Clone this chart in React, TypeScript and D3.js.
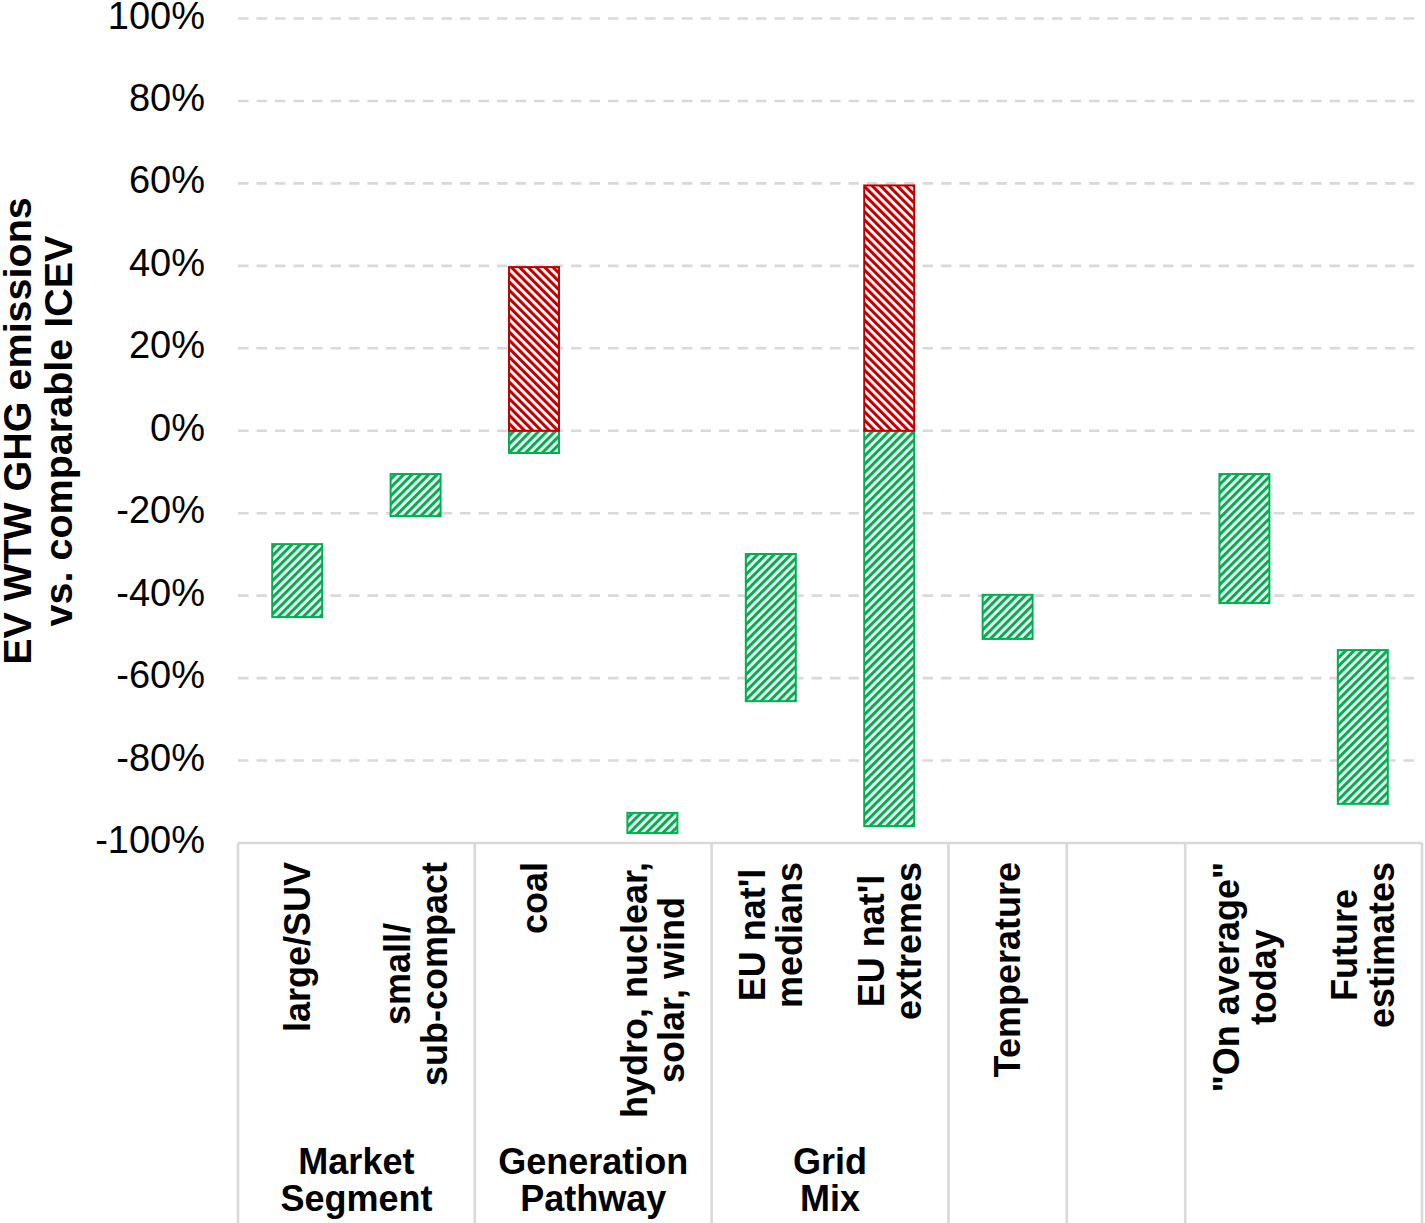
import React, { useMemo } from "react";
import * as d3 from "d3";

// ---- data ----
const categoryIds = ["large", "small", "coal", "renew", "euMed", "euExt", "temp", "gap", "avg", "future"];
const categoryLabels: string[][] = [
  ["large/SUV"],
  ["small/", "sub-compact"],
  ["coal"],
  ["hydro, nuclear,", "solar, wind"],
  ["EU nat'l", "medians"],
  ["EU nat'l", "extremes"],
  ["Temperature"],
  [],
  ['"On average"', "today"],
  ["Future", "estimates"],
];
const greenLow: (number | null)[] = [-45.2, -20.7, -5.4, -97.6, -65.6, -95.9, -50.5, null, -41.8, -90.5];
const greenHigh: (number | null)[] = [-27.5, -10.5, 0, -92.7, -29.9, 0, -39.8, null, -10.5, -53.2];
const redLow: (number | null)[] = [null, null, 0, null, null, 0, null, null, null, null];
const redHigh: (number | null)[] = [null, null, 39.7, null, null, 59.5, null, null, null, null];

const groupLabels: string[][] = [["Market", "Segment"], ["Generation", "Pathway"], ["Grid", "Mix"], [], [], []];
const groupStart = [0, 2, 4, 6, 7, 8];
const groupEnd = [2, 4, 6, 7, 8, 10];

const yTicks = [100, 80, 60, 40, 20, 0, -20, -40, -60, -80, -100];
const yTitle = ["EV WTW GHG emissions", "vs. comparable ICEV"];

// ---- styles ----
const FONT = "'Liberation Sans', Arial, Helvetica, sans-serif";
const GREEN = "#00B050";
const RED = "#C00000";
const GRID = "#D9D9D9";
const W = 1425;
const H = 1223;
const HP = 5.9; // hatch period
const HC = 3.1; // hatch coloured width

export default function App() {
  const left = 238;
  const right = 1422;
  const x = d3.scaleBand<string>().domain(categoryIds).range([left, right]).paddingInner(0.578).paddingOuter(0.289);
  const y = d3.scaleLinear().domain([-100, 100]).range([843, 18.5]);
  const step = x.step();
  const catFont = 36;

  const widths = useMemo(() => {
    const c = document.createElement("canvas").getContext("2d")!;
    c.font = `bold ${catFont}px ${FONT}`;
    return categoryLabels.map((lines) => d3.max(lines, (l) => c.measureText(l).width) || 0);
  }, []);

  const boundaries = Array.from(new Set([...groupStart, ...groupEnd])).sort((a, b) => a - b);
  const labelTop = 862;
  const lh = 37;

  return (
    <svg width={W} height={H} style={{ position: "absolute", left: 0, top: 0, background: "#fff" }} fontFamily={FONT}>
      <defs>
        <pattern id="hatchGreen" width={HP} height={HP} patternUnits="userSpaceOnUse" patternTransform="rotate(45)">
          <rect width={HP} height={HP} fill="#fff" />
          <rect width={HC} height={HP} fill={GREEN} />
        </pattern>
        <pattern id="hatchRed" width={HP} height={HP} patternUnits="userSpaceOnUse" patternTransform="rotate(-45)">
          <rect width={HP} height={HP} fill="#fff" />
          <rect width={HC} height={HP} fill={RED} />
        </pattern>
      </defs>
      <rect width={W} height={H} fill="#fff" />

      {/* gridlines */}
      {yTicks.filter((t) => t !== -100).map((t) => (
        <line key={t} x1={left} x2={right} y1={y(t)} y2={y(t)} stroke={GRID} strokeWidth={2.6} strokeDasharray="10.5 8" />
      ))}
      {/* axis line at bottom */}
      <line x1={left} x2={right} y1={y(-100)} y2={y(-100)} stroke={GRID} strokeWidth={2.6} />
      {boundaries.map((b) => (
        <line key={b} x1={left + b * step} x2={left + b * step} y1={y(-100)} y2={H} stroke={GRID} strokeWidth={2.6} />
      ))}

      {/* tick labels */}
      {yTicks.map((t) => (
        <text key={t} x={205} y={y(t) + 10} textAnchor="end" fontSize={38} fill="#000">
          {`${t}%`}
        </text>
      ))}

      {/* y title */}
      <g transform={`translate(0, 431) rotate(-90)`}>
        {yTitle.map((l, i) => (
          <text key={i} x={0} y={31 + i * 41} textAnchor="middle" fontSize={39.5} fontWeight="bold" fill="#000">
            {l}
          </text>
        ))}
      </g>

      {/* bars */}
      {categoryIds.map((id, i) => {
        const bx = x(id)!;
        const bw = x.bandwidth();
        const out: React.ReactNode[] = [];
        if (greenLow[i] != null && greenHigh[i] != null) {
          const y1 = y(greenHigh[i]!);
          const y2 = y(greenLow[i]!);
          out.push(
            <rect key="g" x={bx} y={y1} width={bw} height={y2 - y1} fill="url(#hatchGreen)" stroke={GREEN} strokeWidth={2} />
          );
        }
        if (redLow[i] != null && redHigh[i] != null) {
          const y1 = y(redHigh[i]!);
          const y2 = y(redLow[i]!);
          out.push(
            <rect key="r" x={bx} y={y1} width={bw} height={y2 - y1} fill="url(#hatchRed)" stroke={RED} strokeWidth={2} />
          );
        }
        return <g key={id}>{out}</g>;
      })}

      {/* category labels */}
      {categoryIds.map((id, i) => {
        const lines = categoryLabels[i];
        if (!lines.length) return null;
        const cx = x(id)! + x.bandwidth() / 2;
        const cy = labelTop + widths[i] / 2;
        const n = lines.length;
        return (
          <g key={id} transform={`translate(${cx}, ${cy}) rotate(-90)`}>
            {lines.map((l, j) => (
              <text key={j} x={0} y={(j - (n - 1) / 2) * lh + 0.358 * catFont} textAnchor="middle" fontSize={catFont} fontWeight="bold" fill="#000">
                {l}
              </text>
            ))}
          </g>
        );
      })}

      {/* group labels */}
      {groupLabels.map((lines, g) =>
        lines.map((l, j) => (
          <text
            key={`${g}-${j}`}
            x={left + ((groupStart[g] + groupEnd[g]) / 2) * step}
            y={1174 + j * 37}
            textAnchor="middle"
            fontSize={catFont}
            fontWeight="bold"
            fill="#000"
          >
            {l}
          </text>
        ))
      )}
    </svg>
  );
}
